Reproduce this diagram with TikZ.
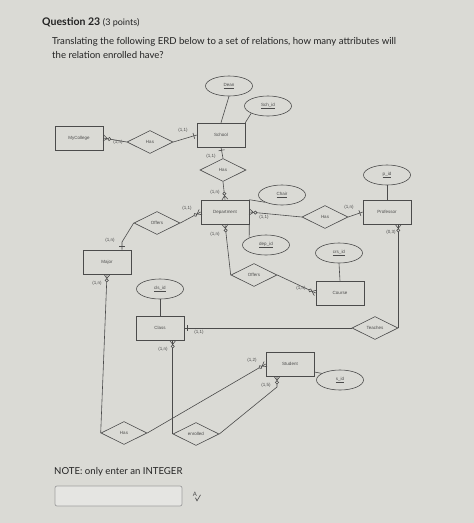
\documentclass[tikz,border=0pt]{standalone}
\usepackage{fontspec}
\setmainfont{Lato}
\newfontfamily\diafont{Liberation Sans}
\usetikzlibrary{shapes.geometric, decorations.markings}
\definecolor{paper}{RGB}{218,218,213}
\definecolor{ink}{RGB}{75,75,75}
\definecolor{textcol}{RGB}{35,35,35}
\tikzset{
	erd/.style={
		draw=ink,
		line width=0.6pt,
		text=ink,
		font=\diafont\fontsize{4.5}{5}\selectfont,
		inner sep=0pt
	},
	entity/.style={erd, rectangle, minimum width=48pt, minimum height=24pt},
	relation/.style={erd, diamond, aspect=2, minimum width=46pt, minimum height=23pt},
	attribute/.style={erd, ellipse, minimum width=47pt, minimum height=20pt},
	card/.style={text=ink, font=\diafont\fontsize{4.5}{5}\selectfont, inner sep=0pt},
	prompt/.style={anchor=base west, inner sep=0pt, text=textcol, font=\fontsize{9.6}{11}\selectfont},
	% cardinality marks at the entity end
	one/.style={
		postaction={decorate},
		decoration={markings, mark=at position -3pt with {\draw[ink, line width=0.6pt] (0,-3pt) -- (0,3pt);}}
	},
	many/.style={
		postaction={decorate},
		decoration={markings, mark=at position -0.1pt with {
			\draw[ink, line width=0.6pt] (-4pt,0) -- (0,3pt) (-4pt,0) -- (0,-3pt);
			\draw[ink, line width=0.6pt, fill=paper] (-6pt,0) circle (1.6pt);}}
	}
}

\begin{document}
\begin{tikzpicture}[x=1pt, y=-1pt]
	\useasboundingbox[fill=paper] (0,0) rectangle (474,523);

	% question text
	\node[anchor=base west, inner sep=0pt, text=textcol, font=\fontsize{10.5}{12}\selectfont] (question) at (42,25)
		{\textbf{Question 23} {\fontsize{9}{10}\selectfont (3 points)}};
	\node[prompt] (prompta) at (52,44) {Translating the following ERD below to a set of relations, how many attributes will};
	\node[prompt] (promptb) at (52,58) {the relation enrolled have?};

	% entities
	\node[entity] (mycollege) at (79,138) {MyCollege};
	\node[entity] (school) at (221,135) {School};
	\node[entity] (dept) at (225,212) {Department};
	\node[entity] (prof) at (387,212) {Professor};
	\node[entity] (course) at (340,293) {Course};
	\node[entity] (major) at (107,262) {Major};
	\node[entity] (class) at (160,328) {Class};
	\node[entity] (student) at (290,364) {Student};

	% relationships
	\node[relation] (hasA) at (150,142) {Has};
	\node[relation] (hasB) at (223,170) {Has};
	\node[relation] (hasC) at (325,217) {Has};
	\node[relation] (offersA) at (254,275) {Offers};
	\node[relation] (offersB) at (157,223) {Offers};
	\node[relation] (teaches) at (375,328) {Teaches};
	\node[relation] (hasD) at (124,433) {Has};
	\node[relation] (enrolled) at (196,434) {enrolled};

	% attributes
	\node[attribute] (dean) at (229,86) {\underline{Dean}};
	\node[attribute] (schid) at (268,106) {\underline{Sch\_id}};
	\node[attribute] (chair) at (282,195) {\underline{Chair}};
	\node[attribute] (pid) at (387,175) {\underline{p\_id}};
	\node[attribute] (depid) at (266,245) {\underline{dep\_id}};
	\node[attribute] (crsid) at (339,253) {\underline{crs\_id}};
	\node[attribute] (clsid) at (160,289) {\underline{cls\_id}};
	\node[attribute] (sid) at (340,380) {\underline{s\_id}};

	\coordinate (bendB) at (122,242);
	\coordinate (bendE) at (277,387);

	\begin{scope}[draw=ink, line width=0.6pt]
	% attribute links
	\draw (school.north) -- (dean.south);
	\draw (school.north east) -- (schid.south west);
	\draw (dept.north east) -- (chair.south west);
	\draw (prof.north) -- (pid.south);
	\draw (dept.south east) -- (depid.north west);
	\draw (course.north) -- (crsid.south);
	\draw (class.north) -- (clsid.south);
	\draw ([yshift=-8pt]student.east) -- (sid.160);

	% relationship links
	\draw[many] (hasA.west) -- (mycollege.east);
	\draw[one] (hasA.east) -- (school.west);
	\draw[one] (hasB.north) -- (school.south);
	\draw[many] (hasB.south) -- (dept.north);
	\draw[many] (hasC.west) -- (dept.east);
	\draw[one] (hasC.east) -- (prof.west);
	\draw[many] (offersA.west) -- (dept.south);
	\draw[many] (offersA.east) -- (course.west);
	\draw[many] (teaches.east) -- (teaches.east |- prof.south);
	\draw[one] (teaches.west) -- (class.east);
	\draw[many] (offersB.east) -- (dept.west);
	\draw[one] (offersB.west) -- (bendB) -- (bendB |- major.north);
	\draw[many] (hasD.west) -- (major.south);
	\draw[many] (hasD.east) -- (student.west);
	\draw[many] (enrolled.west) -- (enrolled.west |- class.south);
	\draw[many] (enrolled.east) -- (bendE) -- (bendE |- student.south);
	\end{scope}

	% cardinalities
	\foreach \x/\y/\t [count=\i] in {
		118/142/{(1,n)}, 183/130/{(1,1)}, 211/156/{(1,1)}, 215/192/{(1,n)},
		264/217/{(1,1)}, 349/207/{(1,n)}, 391/232/{(0,3)}, 215/234/{(1,n)},
		301/288/{(1,n)}, 187/208/{(1,1)}, 110/240/{(1,n)}, 97/283/{(1,n)},
		199/332/{(1,1)}, 163/349/{(1,n)}, 252/360/{(1,2)}, 266/385/{(1,5)}} {
		\node[card] (card\i) at (\x,\y) {\t};
	}

	% answer field
	\node[prompt] (note) at (54,474) {NOTE: only enter an INTEGER};
	\node[draw=gray!75, line width=0.7pt, rounded corners=2pt, fill=paper!70!white,
		minimum width=127pt, minimum height=20pt] (answer) at (118.5,496) {};
	\node[text=ink, font=\fontsize{6}{6}\selectfont, inner sep=0pt] (spell) at (195,494) {A};
	\draw[ink, line width=0.6pt] ([xshift=0.5pt,yshift=-1.5pt]spell.south) -- ++(1.5,3) -- ++(3.5,-6);
\end{tikzpicture}
\end{document}
